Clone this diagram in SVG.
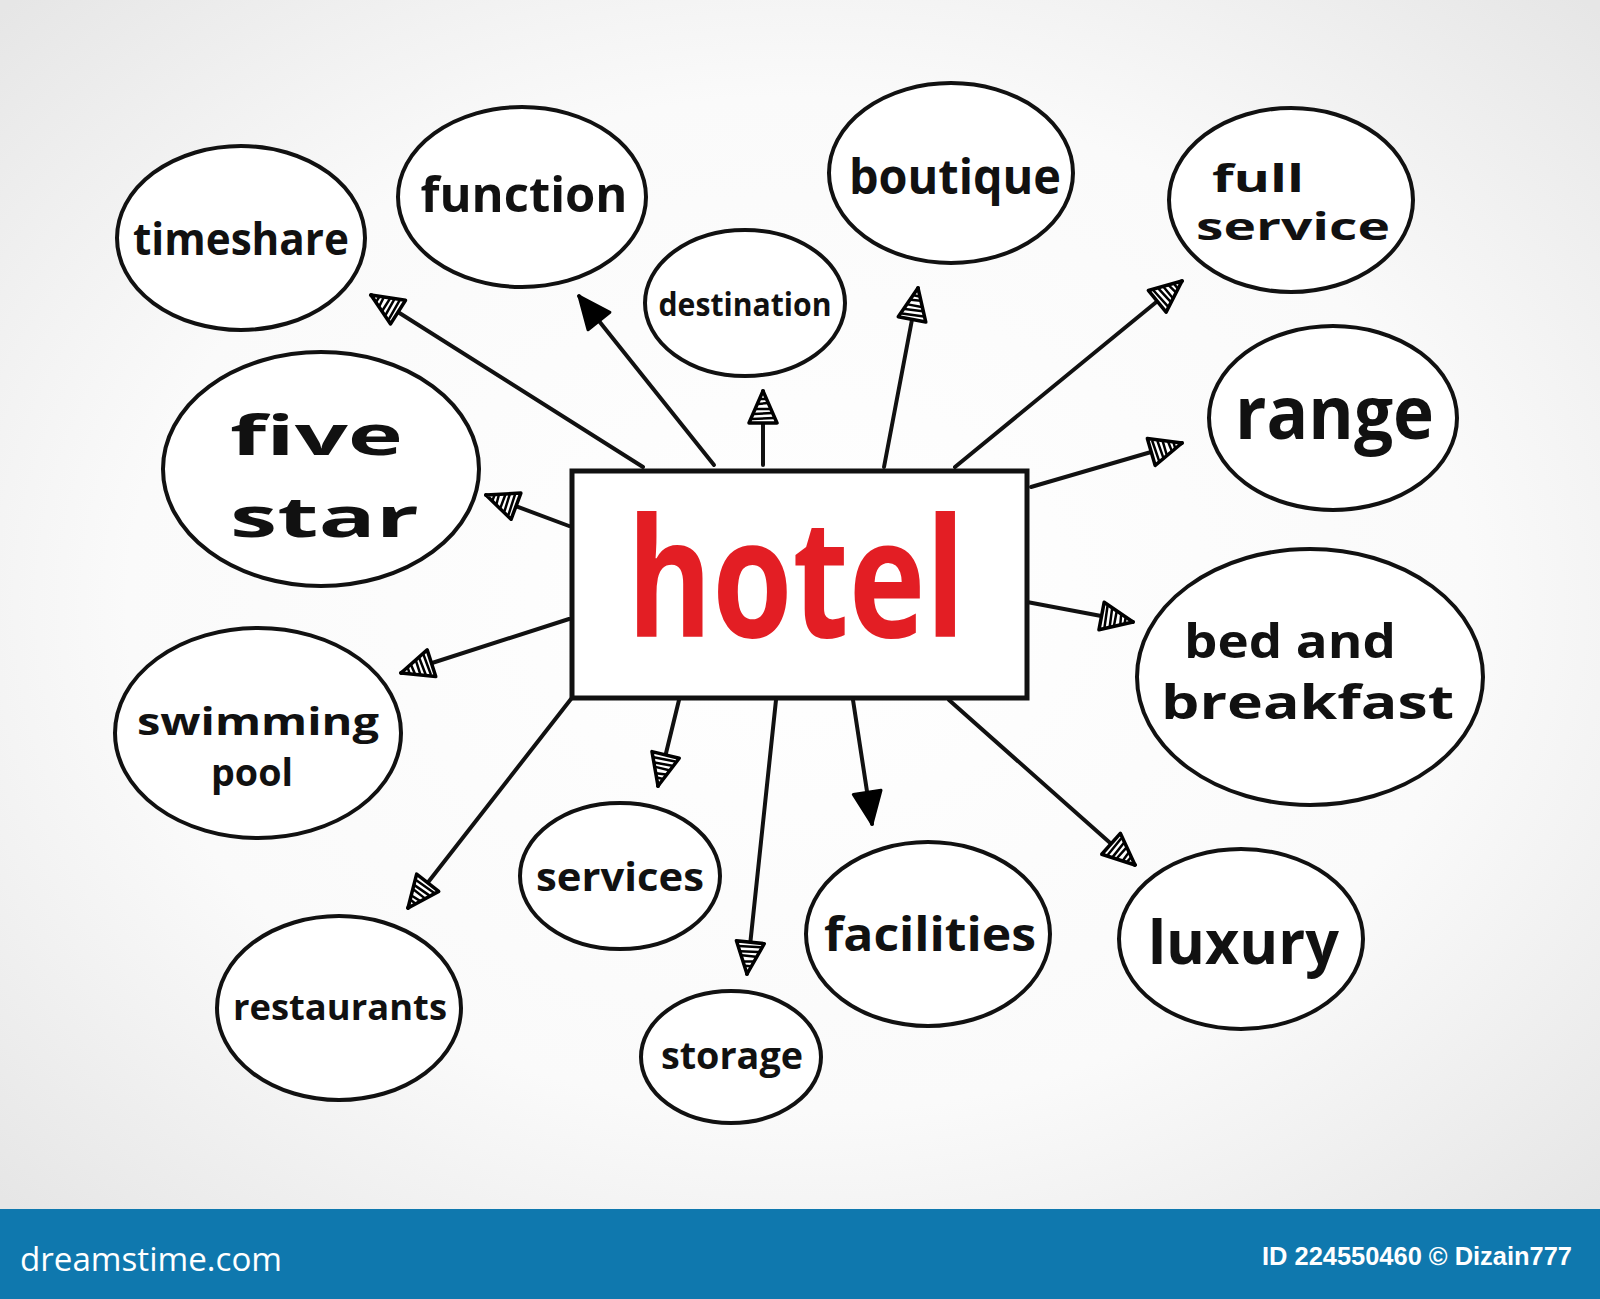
<svg xmlns="http://www.w3.org/2000/svg" width="1600" height="1299" viewBox="0 0 1600 1299">
<defs>
<radialGradient id="bg" cx="50%" cy="50%" r="70%">
<stop offset="0" stop-color="#ffffff"/>
<stop offset="0.6" stop-color="#fafafa"/>
<stop offset="1" stop-color="#e6e6e6"/>
</radialGradient>
<marker id="ah" markerUnits="userSpaceOnUse" markerWidth="44" markerHeight="44" viewBox="0 0 44 44" refX="38" refY="22" orient="auto">
<path d="M6,8 L38,22 L6,36 Z" fill="#fff" stroke="#000" stroke-width="3.5" stroke-linejoin="round"/>
<path d="M10,11 L11,33 M15,13 L16,31 M20,15 L20,29 M25,17 L26,27 M30,19 L30,25" stroke="#000" stroke-width="2.5"/>
</marker>
<marker id="as" markerUnits="userSpaceOnUse" markerWidth="44" markerHeight="44" viewBox="0 0 44 44" refX="38" refY="22" orient="auto">
<path d="M6,8 L38,22 L6,36 Z" fill="#000" stroke="#000" stroke-width="3" stroke-linejoin="round"/>
</marker>
</defs>
<style>
.node ellipse{fill:#fff;stroke:#111;stroke-width:4}
.lbl{font-family:"Open Sans","Liberation Sans",sans-serif;font-weight:700;fill:#111}
.c{stroke:#111;stroke-width:4;fill:none;stroke-linecap:round}
</style>
<rect x="0" y="0" width="1600" height="1209" fill="url(#bg)"/>
<g id="connectors">
<path class="c" d="M643,467 L371,295" marker-end="url(#ah)"/>
<path class="c" d="M714,465 L579,296" marker-end="url(#as)"/>
<path class="c" d="M763,465 L763,391" marker-end="url(#ah)"/>
<path class="c" d="M884,467 L918,288" marker-end="url(#ah)"/>
<path class="c" d="M955,467 L1182,281" marker-end="url(#ah)"/>
<path class="c" d="M1031,487 L1182,443" marker-end="url(#ah)"/>
<path class="c" d="M569,526 L486,495" marker-end="url(#ah)"/>
<path class="c" d="M569,619 L401,673" marker-end="url(#ah)"/>
<path class="c" d="M1027,602 L1133,622" marker-end="url(#ah)"/>
<path class="c" d="M679,700 L658,786" marker-end="url(#ah)"/>
<path class="c" d="M571,699 L408,908" marker-end="url(#ah)"/>
<path class="c" d="M776,700 L747,974" marker-end="url(#ah)"/>
<path class="c" d="M853,700 L872,824" marker-end="url(#as)"/>
<path class="c" d="M949,700 L1135,865" marker-end="url(#ah)"/>
</g>
<g id="hotel">
<rect x="572" y="471" width="455" height="227" fill="#fff" stroke="#111" stroke-width="5"/>
<text x="627" y="637" font-family="Open Sans, Liberation Sans, sans-serif" font-weight="700" font-size="165" fill="#e31e24" textLength="338" lengthAdjust="spacingAndGlyphs">hotel</text>
</g>
<g id="timeshare" class="node"><ellipse cx="241" cy="238" rx="124" ry="92"/><text class="lbl" x="241" y="255" font-size="44" text-anchor="middle" textLength="216" lengthAdjust="spacingAndGlyphs">timeshare</text></g>
<g id="function" class="node"><ellipse cx="522" cy="197" rx="124" ry="90"/><text class="lbl" x="524" y="212" font-size="48" text-anchor="middle" textLength="207" lengthAdjust="spacingAndGlyphs">function</text></g>
<g id="destination" class="node"><ellipse cx="745" cy="303" rx="100" ry="73"/><text class="lbl" x="745" y="316" font-size="32" text-anchor="middle" textLength="173" lengthAdjust="spacingAndGlyphs">destination</text></g>
<g id="boutique" class="node"><ellipse cx="951" cy="173" rx="122" ry="90"/><text class="lbl" x="955" y="194" font-size="48" text-anchor="middle" textLength="212" lengthAdjust="spacingAndGlyphs">boutique</text></g>
<g id="fullservice" class="node"><ellipse cx="1291" cy="200" rx="122" ry="92"/><text class="lbl" x="1212" y="192" font-size="38" textLength="92" lengthAdjust="spacingAndGlyphs">full</text><text class="lbl" x="1196" y="240" font-size="38" textLength="194" lengthAdjust="spacingAndGlyphs">service</text></g>
<g id="fivestar" class="node"><ellipse cx="321" cy="469" rx="158" ry="117"/><text class="lbl" x="230" y="455" font-size="56" textLength="173" lengthAdjust="spacingAndGlyphs">five</text><text class="lbl" x="230" y="537" font-size="56" textLength="189" lengthAdjust="spacingAndGlyphs">star</text></g>
<g id="range" class="node"><ellipse cx="1333" cy="418" rx="124" ry="92"/><text class="lbl" x="1235" y="439" font-size="74" textLength="199" lengthAdjust="spacingAndGlyphs">range</text></g>
<g id="swimmingpool" class="node"><ellipse cx="258" cy="733" rx="143" ry="105"/><text class="lbl" x="258" y="735" font-size="38" text-anchor="middle" textLength="242" lengthAdjust="spacingAndGlyphs">swimming</text><text class="lbl" x="252" y="786" font-size="38" text-anchor="middle" textLength="82" lengthAdjust="spacingAndGlyphs">pool</text></g>
<g id="bedandbreakfast" class="node"><ellipse cx="1310" cy="677" rx="173" ry="128"/><text class="lbl" x="1184" y="658" font-size="46" textLength="212" lengthAdjust="spacingAndGlyphs">bed and</text><text class="lbl" x="1161" y="719" font-size="46" textLength="293" lengthAdjust="spacingAndGlyphs">breakfast</text></g>
<g id="services" class="node"><ellipse cx="620" cy="876" rx="100" ry="73"/><text class="lbl" x="536" y="891" font-size="40" textLength="168" lengthAdjust="spacingAndGlyphs">services</text></g>
<g id="restaurants" class="node"><ellipse cx="339" cy="1008" rx="122" ry="92"/><text class="lbl" x="233" y="1020" font-size="36" textLength="214" lengthAdjust="spacingAndGlyphs">restaurants</text></g>
<g id="storage" class="node"><ellipse cx="731" cy="1057" rx="90" ry="66"/><text class="lbl" x="661" y="1069" font-size="38" textLength="142" lengthAdjust="spacingAndGlyphs">storage</text></g>
<g id="facilities" class="node"><ellipse cx="928" cy="934" rx="122" ry="92"/><text class="lbl" x="824" y="951" font-size="46" textLength="212" lengthAdjust="spacingAndGlyphs">facilities</text></g>
<g id="luxury" class="node"><ellipse cx="1241" cy="939" rx="122" ry="90"/><text class="lbl" x="1148" y="964" font-size="60" textLength="191" lengthAdjust="spacingAndGlyphs">luxury</text></g>
<g id="banner">
<rect x="0" y="1209" width="1600" height="90" fill="#0f78ae"/>
<text x="20" y="1271" font-family="Open Sans, Liberation Sans, sans-serif" font-size="32" fill="#fff" textLength="262" lengthAdjust="spacingAndGlyphs">dreamstime.com</text>
<text x="1572" y="1265" font-family="Liberation Sans Narrow, Liberation Sans, sans-serif" font-weight="700" font-size="26" fill="#fff" text-anchor="end" textLength="310" lengthAdjust="spacingAndGlyphs">ID 224550460 © Dizain777</text>
</g>
</svg>
